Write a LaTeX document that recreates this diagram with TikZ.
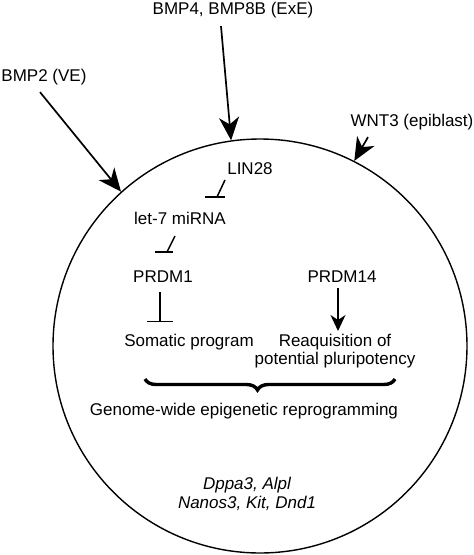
\documentclass[tikz,border=0pt]{standalone}
\usepackage{fontspec}
\setmainfont{Liberation Sans}
\usetikzlibrary{arrows.meta,decorations.pathreplacing}

\tikzset{
    lbl/.style={font=\fontsize{17}{18.5}\selectfont, inner sep=0pt, align=center},
    sig/.style={line width=1.7pt, -{Stealth[length=23pt,width=20pt,inset=7pt]}},
    inh/.style={line width=1.5pt},
}

\begin{document}
\begin{tikzpicture}[x=1pt, y=-1pt]
        \useasboundingbox (0,0) rectangle (474,555);

        % Zelle
        \node[draw, line width=1.4pt, circle, minimum size=414pt, inner sep=0pt] (cell) at (260,346) {};

        % Signale von aussen
        \node[lbl] (bmpfour) at (233,10) {BMP4, BMP8B (ExE)};
        \node[lbl] (bmptwo) at (44,77) {BMP2 (VE)};
        \node[lbl] (wnt) at (412,122) {WNT3 (epiblast)};
        \draw[sig] ([xshift=-12pt,yshift=-8pt]bmpfour.south) -- (cell.98);
        \draw[sig] ([xshift=-4pt,yshift=-7pt]bmptwo.south) -- (cell.132);
        \draw[sig] ([xshift=-44pt,yshift=-7pt]wnt.south) -- (cell.63);

        % Innen
        \node[lbl] (lin) at (250,169) {LIN28};
        \node[lbl] (let) at (180,218) {let-7 miRNA};
        \node[lbl] (prdmone) at (163,277) {PRDM1};
        \node[lbl] (prdmfourteen) at (342,277) {PRDM14};
        \node[lbl] (soma) at (189,342) {Somatic program};
        \node[lbl] (reaq) at (335,351) {Reaquisition of\\potential pluripotency};

        \coordinate (linfrom) at (225,180);
        \coordinate (linto) at (217,197);
        \draw[inh] (linfrom) -- (linto);
        \draw[inh] ([xshift=-12pt]linto) -- ([xshift=8pt]linto);

        \coordinate (letfrom) at (175,236);
        \coordinate (letto) at (167,252);
        \draw[inh] (letfrom) -- (letto);
        \draw[inh] ([xshift=-12pt]letto) -- ([xshift=6pt]letto);

        \coordinate (onefrom) at (160,292);
        \coordinate (oneto) at (160,322);
        \draw[inh, -{Bar[width=26pt]}] (onefrom) -- (oneto);

        \coordinate (fourteenfrom) at (338,288);
        \coordinate (fourteento) at (338,331);
        \draw[line width=1.5pt, -{Stealth[length=16pt,width=15pt,inset=5pt]}] (fourteenfrom) -- (fourteento);

        % Klammer
        \draw[line width=3.4pt, decorate, decoration={brace, mirror, amplitude=11pt, aspect=0.45}] (145,379) -- (395,379);

        \node[lbl] (genome) at (244,411) {Genome-wide epigenetic reprogramming};
        \node[lbl, font=\fontsize{17}{18.5}\selectfont\itshape] (genes) at (247,494) {Dppa3, Alpl\\Nanos3, Kit, Dnd1};

    \end{tikzpicture}
\end{document}
